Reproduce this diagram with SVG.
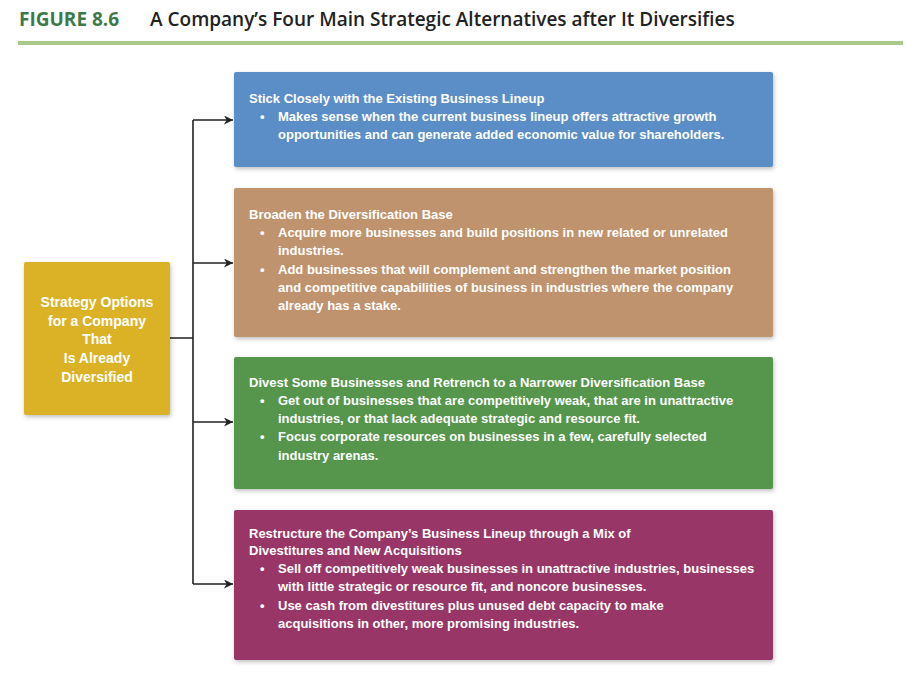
<svg xmlns="http://www.w3.org/2000/svg" width="907" height="699" viewBox="0 0 907 699">
<style>
.t{font-family:"Liberation Sans",Arial,sans-serif;font-weight:bold;font-size:13px;fill:#fff}
.r{font-size:14px}
.c{stroke:#222;stroke-width:1.6;fill:none}
.box{filter:drop-shadow(1px 2px 2px rgba(0,0,0,0.25))}
</style>
<defs><marker id="a" viewBox="0 0 10 10" refX="10" refY="5" markerWidth="9" markerHeight="9" markerUnits="userSpaceOnUse" orient="auto"><path d="M0,0 L10,5 L0,10 L3,5 z" fill="#222"/></marker></defs>
<rect width="907" height="699" fill="#fff"/>
<text x="19" y="26" font-family="Open Sans,sans-serif" font-size="19" font-weight="bold" fill="#3d7a4a">FIGURE 8.6<tspan x="150" fill="#222" font-weight="600">A Company’s Four Main Strategic Alternatives after It Diversifies</tspan></text>
<rect x="18" y="41" width="885" height="4" fill="#a9c98a"/>
<g id="connectors">
<path class="c" d="M170 338 H193 M193 120 V584"/>
<path class="c" d="M193 120 H233" marker-end="url(#a)"/>
<path class="c" d="M193 263 H233" marker-end="url(#a)"/>
<path class="c" d="M193 422 H233" marker-end="url(#a)"/>
<path class="c" d="M193 584 H233" marker-end="url(#a)"/>
</g>
<g id="root"><rect class="box" x="24" y="262" width="146" height="153" rx="2" fill="#dbb226"/>
<text class="t r" text-anchor="middle" x="97"><tspan x="97" y="307">Strategy Options</tspan><tspan x="97" y="326">for a Company</tspan><tspan x="97" y="344">That</tspan><tspan x="97" y="363">Is Already</tspan><tspan x="97" y="382">Diversified</tspan></text></g>
<g id="n1"><rect class="box" x="234" y="72" width="539" height="95" rx="2" fill="#5b8ec7"/>
<text class="t"><tspan x="249" y="103">Stick Closely with the Existing Business Lineup</tspan><tspan x="260" y="121">•</tspan><tspan x="278" y="121">Makes sense when the current business lineup offers attractive growth</tspan><tspan x="278" y="139">opportunities and can generate added economic value for shareholders.</tspan></text></g>
<g id="n2"><rect class="box" x="234" y="188" width="539" height="149" rx="2" fill="#bf936d"/>
<text class="t"><tspan x="249" y="219">Broaden the Diversification Base</tspan><tspan x="260" y="237">•</tspan><tspan x="278" y="237">Acquire more businesses and build positions in new related or unrelated</tspan><tspan x="278" y="255">industries.</tspan><tspan x="260" y="274">•</tspan><tspan x="278" y="274">Add businesses that will complement and strengthen the market position</tspan><tspan x="278" y="292">and competitive capabilities of business in industries where the company</tspan><tspan x="278" y="310">already has a stake.</tspan></text></g>
<g id="n3"><rect class="box" x="234" y="357" width="539" height="132" rx="2" fill="#55964c"/>
<text class="t"><tspan x="249" y="387">Divest Some Businesses and Retrench to a Narrower Diversification Base</tspan><tspan x="260" y="405">•</tspan><tspan x="278" y="405">Get out of businesses that are competitively weak, that are in unattractive</tspan><tspan x="278" y="423">industries, or that lack adequate strategic and resource fit.</tspan><tspan x="260" y="441">•</tspan><tspan x="278" y="441">Focus corporate resources on businesses in a few, carefully selected</tspan><tspan x="278" y="460">industry arenas.</tspan></text></g>
<g id="n4"><rect class="box" x="234" y="510" width="539" height="150" rx="2" fill="#983767"/>
<text class="t"><tspan x="249" y="538">Restructure the Company’s Business Lineup through a Mix of</tspan><tspan x="249" y="555">Divestitures and New Acquisitions</tspan><tspan x="260" y="573">•</tspan><tspan x="278" y="573">Sell off competitively weak businesses in unattractive industries, businesses</tspan><tspan x="278" y="591">with little strategic or resource fit, and noncore businesses.</tspan><tspan x="260" y="610">•</tspan><tspan x="278" y="610">Use cash from divestitures plus unused debt capacity to make</tspan><tspan x="278" y="628">acquisitions in other, more promising industries.</tspan></text></g>
</svg>
